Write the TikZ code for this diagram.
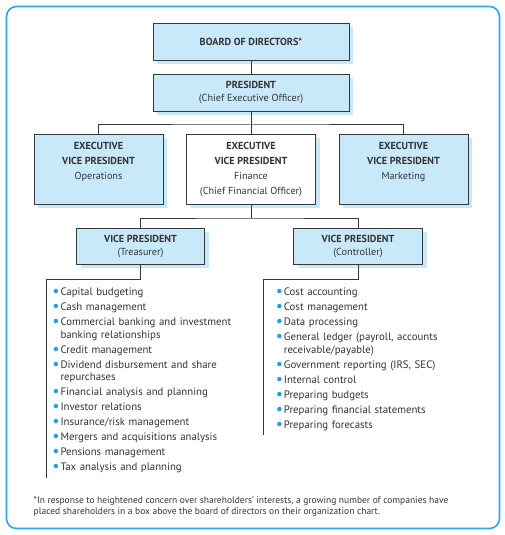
\documentclass[tikz,border=0pt]{standalone}
\usepackage{fontspec}
\setmainfont{PT Sans}
\usetikzlibrary{positioning}
\usetikzlibrary{shadows}

\definecolor{boxblue}{HTML}{C8E9FA}
\definecolor{frameblue}{HTML}{2BAAE2}
\definecolor{dotblue}{HTML}{1AA3E0}
\definecolor{linegray}{HTML}{383838}
\definecolor{textgray}{HTML}{333333}

\newcommand{\bdot}{\makebox[8bp][l]{\textcolor{dotblue}{\fontsize{16bp}{16bp}\selectfont\raisebox{-1.2bp}{•}}}}
\newcommand{\litem}[1]{\noindent\hangindent=8bp\hangafter=1\bdot#1\par\vspace{2.5bp}}

\begin{document}
\begin{tikzpicture}[x=1bp, y=-1bp,
  every node/.style={text=textgray},
  orgbox/.style={draw=linegray, line width=0.9bp, fill=boxblue, align=center, inner sep=0pt,
    font=\fontsize{10.2bp}{13bp}\selectfont,
    drop shadow={shadow xshift=4bp, shadow yshift=-4bp, fill=boxblue, opacity=1}},
  evpbox/.style={orgbox, minimum width=129bp, minimum height=70bp, font=\fontsize{10.2bp}{15bp}\selectfont},
  duties/.style={anchor=north west, inner sep=0pt, text width=220bp, align=left,
    font=\fontsize{10.8bp}{12.5bp}\selectfont},
  link/.style={draw=linegray, line width=1bp}]

\useasboundingbox (0,0) rectangle (505,535);
\draw[frameblue, line width=1.6bp, rounded corners=10bp] (6.5,6.5) rectangle (499.5,528.5);

% top of the chart
\node[orgbox, minimum width=196bp, minimum height=37bp] (board) at (251,41.5) {\textbf{BOARD OF DIRECTORS*}};
\node[orgbox, minimum width=196bp, minimum height=37bp] (pres) at (251,92.5) {\textbf{PRESIDENT}\\(Chief Executive Officer)};

\node[evpbox] (ops) at (98.5,169) {\textbf{EXECUTIVE}\\\textbf{VICE PRESIDENT}\\Operations\\\vphantom{(Chief Financial Officer)}};
\node[evpbox, fill=white] (fin) at (251,169) {\textbf{EXECUTIVE}\\\textbf{VICE PRESIDENT}\\Finance\\(Chief Financial Officer)};
\node[evpbox] (mkt) at (403.5,169) {\textbf{EXECUTIVE}\\\textbf{VICE PRESIDENT}\\Marketing\\\vphantom{(Chief Financial Officer)}};

\node[orgbox, minimum width=128bp, minimum height=36bp] (tre) at (140.5,246) {\textbf{VICE PRESIDENT}\\(Treasurer)};
\node[orgbox, minimum width=129bp, minimum height=36bp] (con) at (358,246) {\textbf{VICE PRESIDENT}\\(Controller)};

\coordinate (bus1) at (251,125);
\coordinate (bus2) at (251,218);
\coordinate (trecorner) at (46,279);
\coordinate (treend) at (46,478);
\coordinate (concorner) at (263,279);
\coordinate (conend) at (263,435);

\path[link] (board) -- (pres);
\path[link] (pres) -- (bus1);
\path[link] (ops.north) |- (bus1) -| (mkt.north);
\path[link] (bus1) -- (fin);
\path[link] (fin) -- (bus2);
\path[link] (tre.north) |- (bus2) -| (con.north);
\path[link] (tre.south) |- (trecorner) -- (treend);
\path[link] (con.south) |- (concorner) -- (conend);

% duties of the two vice presidents
\node[duties] (trelist) at (52.3,287.8) {%
\litem{Capital budgeting}
\litem{Cash management}
\litem{Commercial banking and investment\newline banking relationships}
\litem{Credit management}
\litem{Dividend disbursement and share\newline repurchases}
\litem{Financial analysis and planning}
\litem{Investor relations}
\litem{Insurance/risk management}
\litem{Mergers and acquisitions analysis}
\litem{Pensions management}
\litem{Tax analysis and planning}};

\node[duties] (conlist) at (275.7,287.8) {%
\litem{Cost accounting}
\litem{Cost management}
\litem{Data processing}
\litem{General ledger (payroll, accounts\newline receivable/payable)}
\litem{Government reporting (IRS, SEC)}
\litem{Internal control}
\litem{Preparing budgets}
\litem{Preparing financial statements}
\litem{Preparing forecasts}};

\node[anchor=north west, inner sep=0pt, align=left, font=\fontsize{9.5bp}{11bp}\selectfont] (note) at (33.5,496.6)
  {*In response to heightened concern over shareholders’ interests, a growing number of companies have\\placed shareholders in a box above the board of directors on their organization chart.};
\end{tikzpicture}
\end{document}
